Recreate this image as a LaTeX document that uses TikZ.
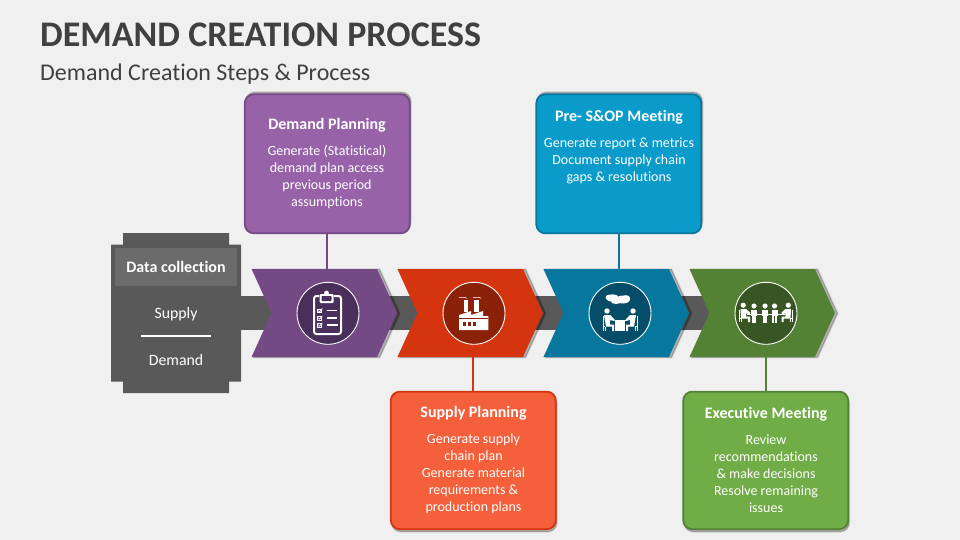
\documentclass[tikz,border=0pt]{standalone}
\usepackage{fontspec}
\setmainfont{Carlito}[Ligatures=NoCommon]
\usetikzlibrary{shapes.symbols}
\definecolor{bg}{HTML}{F0F0F0}
\definecolor{ink}{HTML}{404040}
\definecolor{graya}{HTML}{595959}
\definecolor{grayb}{HTML}{6B6B6B}
\definecolor{pA}{HTML}{744A85}\definecolor{pB}{HTML}{9762A8}\definecolor{pC}{HTML}{4A2F5C}
\definecolor{rA}{HTML}{D4350E}\definecolor{rB}{HTML}{F4603C}\definecolor{rC}{HTML}{8C210A}
\definecolor{bA}{HTML}{07779D}\definecolor{bB}{HTML}{0A9BCA}\definecolor{bC}{HTML}{054D68}
\definecolor{gA}{HTML}{548235}\definecolor{gB}{HTML}{70AD47}\definecolor{gC}{HTML}{375623}
\tikzset{
  softshadow/.style n args={2}{
    preaction={draw=black,fill=black,line width=2.4pt,draw opacity=.05,fill opacity=.05,transform canvas={shift={(#1,#2)}}},
    preaction={draw=black,fill=black,line width=1.4pt,draw opacity=.08,fill opacity=.08,transform canvas={shift={(#1,#2)}}},
    preaction={draw=black,fill=black,line width=.4pt,draw opacity=.14,fill opacity=.14,transform canvas={shift={(#1,#2)}}}},
  chevron/.style={shape=signal,signal from=west,signal to=east,signal pointer angle=131.1,
    minimum width=145.5pt,minimum height=88pt,inner sep=0pt,outer sep=0pt,softshadow={2.6}{.4},fill=#1},
  infobox/.style n args={2}{rectangle,rounded corners=9pt,minimum width=165pt,inner sep=0pt,outer sep=0pt,
    draw=#1,fill=#2,line width=1.8pt},
  badge/.style={circle,draw=white,line width=.9pt,minimum size=62pt,inner sep=0pt,fill=#1},
  head/.style={font=\fontsize{16}{17}\selectfont\bfseries,text=white,inner sep=0pt,anchor=center},
  body/.style={font=\fontsize{14}{17}\selectfont,text=white,inner sep=0pt,align=center,anchor=north},
  link/.style={line width=1.8pt,draw=#1},
  lab/.style={font=\fontsize{15.8}{17}\selectfont,text=white,inner sep=0pt},
  ic/.style={draw=white,line width=#1,line cap=butt,line join=round},
}
\newcommand{\seated}{%
  \fill[white] (-13,-2) circle (2.7);
  \fill[white] (-16,2) -- (-10,2) -- (-5.5,6.5) -- (-5.5,8) -- (-10,7) -- (-10,11.5) -- (-6,11.5) -- (-6,18) -- (-8,18) -- (-8,13.5) -- (-14,13.5) -- cycle;
  \draw[ic=1pt] (-17,3) -- (-17,18) (-17,13.5) -- (-15,13.5) (-15,13.5) -- (-15,18);
}
\newcommand{\standing}[1]{%
  \fill[white] (#1,306) circle (2.6);
  \fill[white] (#1-3,309.5) rectangle (#1+3,316);
  \fill[white] (#1-2.2,316) rectangle (#1-.3,322.5);
  \fill[white] (#1+.3,316) rectangle (#1+2.2,322.5);
}
\begin{document}
\begin{tikzpicture}[x=1pt,y=-1pt]
\useasboundingbox (0,0) rectangle (960,540);
\fill[bg] (0,0) rectangle (960,540);

\node[font=\fontsize{36}{40}\selectfont\bfseries,text=ink,anchor=west,inner sep=0pt] (title) at (40,34.7) {DEMAND CREATION PROCESS};
\node[font=\fontsize{24}{26}\selectfont,text=ink,anchor=west,inner sep=0pt] (sub) at (40,74.6) {Demand Creation Steps \& Process};

% data block
\fill[graya] (123,233) -- (229,233) -- (229,244.5) -- (241,244.5) -- (241,381.5) -- (229,381.5) -- (229,393) -- (123,393) -- (123,381.5) -- (111,381.5) -- (111,244.5) -- (123,244.5) -- cycle;
\node[fill=grayb,minimum width=122pt,minimum height=38pt,inner sep=0pt,outer sep=0pt,font=\fontsize{16}{17}\selectfont\bfseries,text=white] (dc) at (176,267) {Data collection};
\node[lab] (sup) at (176,314.5) {Supply};
\node[lab] (dem) at (176,360.5) {Demand};
\coordinate (ruleL) at (141,336);\coordinate (ruleR) at (210.5,336);
\draw[white,line width=1.3pt] (ruleL) -- (ruleR);

% bars
\coordinate (blockE) at (241,313);
\coordinate (b1) at (380,313);\coordinate (b2) at (526,313);\coordinate (b3) at (672,313);
\node[inner sep=0pt,outer sep=0pt,minimum width=0pt] (c1) at (324.3,313) {};
\node[inner sep=0pt,outer sep=0pt] (c2) at (470.2,313) {};
\node[inner sep=0pt,outer sep=0pt] (c3) at (616.2,313) {};
\node[inner sep=0pt,outer sep=0pt] (c4) at (762.2,313) {};
\draw[graya,line width=34pt] (blockE) -- (c1);
\draw[graya,line width=34pt] (b1) -- (c2);
\draw[graya,line width=34pt] (b2) -- (c3);
\draw[graya,line width=34pt] (b3) -- (c4);

% chevrons
\node[chevron=pA] (s1) at (324.3,313) {};
\node[chevron=rA] (s2) at (470.2,313) {};
\node[chevron=bA] (s3) at (616.2,313) {};
\node[chevron=gA] (s4) at (762.2,313) {};

% boxes
\node[infobox={pA}{pB},minimum height=139pt,softshadow={1}{-2}] (dp) at (327.3,163.8) {};
\node[infobox={bA}{bB},minimum height=139pt,softshadow={1}{-2}] (pre) at (618.8,163.8) {};
\node[infobox={rA}{rB},minimum height=137.5pt,softshadow={1}{2.5}] (spl) at (473.3,460.4) {};
\node[infobox={gA}{gB},minimum height=137.5pt,softshadow={1}{2.5}] (ex) at (765.7,460.4) {};

\draw[link=pA] (dp.south) -- (dp.south |- s1.north);
\draw[link=bA] (pre.south) -- (pre.south |- s3.north);
\draw[link=rA] (spl.north) -- (spl.north |- s2.south);
\draw[link=gA] (ex.north) -- (ex.north |- s4.south);

% box text
\node[head] (dpT) at (327,125.5) {Demand Planning};
\node[body] (dpB) at (327,145.4) {Generate (Statistical)\\demand plan access\\previous period\\assumptions};
\node[head] (preT) at (619,117.5) {Pre- S\&OP Meeting};
\node[body] (preB) at (619,137.4) {Generate report \& metrics\\Document supply chain\\gaps \& resolutions};
\node[head] (splT) at (473.5,413.5) {Supply Planning};
\node[body] (splB) at (473.5,433.8) {Generate supply\\chain plan\\Generate material\\requirements \&\\production plans};
\node[head] (exT) at (766,414.5) {Executive Meeting};
\node[body] (exB) at (766,434.3) {Review\\recommendations\\\& make decisions\\Resolve remaining\\issues};

% badges
\node[badge=pC] (i1) at (328,313.3) {};
\node[badge=rC] (i2) at (474,313.3) {};
\node[badge=bC] (i3) at (620,313.3) {};
\node[badge=gC] (i4) at (766,313.3) {};

% clipboard
\draw[ic=2pt,rounded corners=2.5pt] (319,296) -- (314,296) -- (314,334) -- (341,334) -- (341,296) -- (334,296);
\fill[white,rounded corners=1pt] (319.5,294) rectangle (333.5,303);
\fill[pC,rounded corners=.8pt] (321.5,296) rectangle (331.5,301);
\fill[white] (326.5,293) circle (2.4);
\foreach \yy/\xe in {310.7/337,318/337,325/338}{
  \draw[ic=.8pt] (317.6,\yy-1.7) rectangle (321.4,\yy+1.9);
  \draw[ic=.8pt] (318.4,\yy) -- (319.5,\yy+1.2) -- (322.3,\yy-2.2);
  \draw[ic=1.1pt] (326.5,\yy) -- (\xe,\yy);
}

% factory
\fill[white] (459,330) -- (459,317) -- (459,315) -- (471,311) -- (471,315) -- (483,311) -- (483,316) -- (488.3,316) -- (488.3,330) -- cycle;
\fill[white] (464,300) rectangle (468.3,312);
\fill[white] (474.3,300) rectangle (479,312);
\fill[rC] (459,317.5) rectangle (488.3,318.5);
\fill[rC] (462.5,321.7) rectangle (465.8,326.2);
\fill[rC] (467.6,321.7) rectangle (470.9,326.2);
\fill[rC] (472.7,321.7) rectangle (476,326.2);
\draw[white,line width=.5pt] (459,297.5) .. controls (461,295.8) and (462,298.5) .. (464,297.5) .. controls (465,297) and (466,297) .. (467,298.5);
\draw[white,line width=.5pt] (473,297.5) .. controls (475,295.8) and (476,298.5) .. (478,297.5) .. controls (479,297) and (480,297) .. (481,298.5);

% meeting
\fill[white] (612.5,298) ellipse (6.5 and 3.6);
\fill[white] (609,297.5) ellipse (3.5 and 2.8);
\fill[white] (623,299.5) ellipse (7 and 4);
\fill[white] (616,301.5) ellipse (5 and 2.5);
\fill[white] (626,298) ellipse (4 and 2.8);
\fill[white] (615.3,321) rectangle (624.7,331);
\fill[white] (614.5,319.5) rectangle (625.5,320.8);
\begin{scope}[shift={(620,313)}]
\seated
\begin{scope}[xscale=-1]\seated\end{scope}
\end{scope}

% boardroom
\standing{754}\standing{765}\standing{774.5}
\fill[white] (747,313.5) rectangle (785.5,315.3);
\begin{scope}[shift={(756,307.5)}]
\fill[white] (-12.8,-2.3) circle (2.6);
\fill[white] (-15.5,1.5) -- (-10,1.5) -- (-6,5) -- (-6,6.5) -- (-10,6) -- (-10,9) -- (-6,9) -- (-6,14.5) -- (-8,14.5) -- (-8,11) -- (-15,11) -- cycle;
\draw[ic=.9pt] (-17,2) -- (-17,14.5) (-17,11) -- (-14.5,11) -- (-14.5,14.5);
\end{scope}
\begin{scope}[shift={(775.5,307.5)},xscale=-1]
\fill[white] (-12.8,-2.3) circle (2.6);
\fill[white] (-15.5,1.5) -- (-10,1.5) -- (-6,5) -- (-6,6.5) -- (-10,6) -- (-10,9) -- (-6,9) -- (-6,14.5) -- (-8,14.5) -- (-8,11) -- (-15,11) -- cycle;
\draw[ic=.9pt] (-17,2) -- (-17,14.5) (-17,11) -- (-14.5,11) -- (-14.5,14.5);
\end{scope}
\end{tikzpicture}
\end{document}
